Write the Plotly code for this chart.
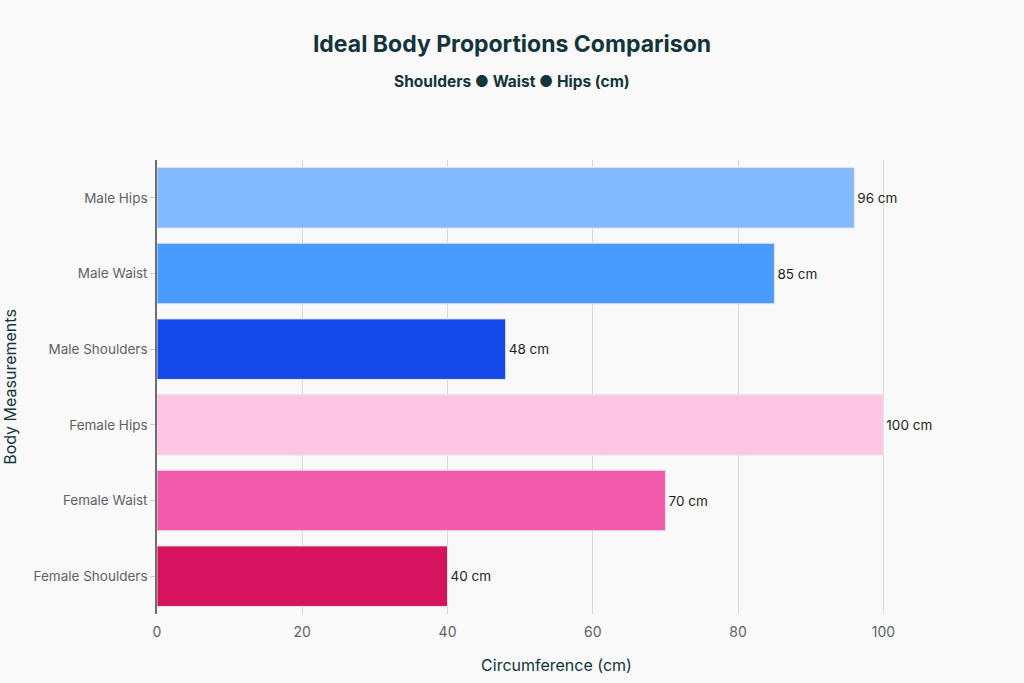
import plotly.graph_objects as go

categories = ["Female Shoulders", "Female Waist", "Female Hips",
              "Male Shoulders", "Male Waist", "Male Hips"]
values = [40, 70, 100, 48, 85, 96]
labels = ["40 cm", "70 cm", "100 cm", "48 cm", "85 cm", "96 cm"]
colors = ["#D5145D", "#F35AAB", "#FEC6E4", "#1448E8", "#4A9BFF", "#82B9FF"]

title_text = "Ideal Body Proportions Comparison"
subtitle_text = "Shoulders ● Waist ● Hips (cm)"

L, R, T, B = 157, 68, 160, 69
plot_w = 1024 - L - R

fig = go.Figure(go.Bar(
    x=values, y=categories, orientation="h",
    marker=dict(color=colors, line=dict(color="#E6E6E6", width=1)),
    text=labels, textposition="outside", cliponaxis=False,
    textfont=dict(size=13.5, color="#1F1F1F", family="Inter"),
    showlegend=False,
))

fig.update_layout(
    width=1024, height=683,
    paper_bgcolor="#F9F9F9", plot_bgcolor="#F9F9F9",
    font=dict(family="Inter", color="#5F6368"),
    title=dict(
        text="<b>" + title_text + "</b>",
        x=0.5, xanchor="center", y=1 - 44 / 683, yanchor="middle",
        font=dict(size=23, color="#13343B", family="Inter"),
    ),
    annotations=[dict(
        text="<b>" + subtitle_text + "</b>",
        xref="paper", yref="paper", x=(512 - L) / plot_w,
        y=1.172, xanchor="center", yanchor="middle", showarrow=False,
        font=dict(size=15.5, color="#13343B", family="Inter"),
    )],
    margin=dict(l=L, r=R, t=T, b=B),
    bargap=0.2,
    xaxis=dict(
        title=dict(text="Circumference (cm)", font=dict(size=16, color="#13343B"), standoff=20),
        range=[0, 110], dtick=20, showgrid=True, gridcolor="#DADADA",
        zeroline=False, showline=False, ticklabelstandoff=8, automargin=False,
        tickfont=dict(size=14, color="#5F6368"),
    ),
    yaxis=dict(
        title=dict(text="Body Measurements", font=dict(size=16, color="#13343B")),
        showline=True, linecolor="#6E6E6E", linewidth=1.5, automargin=False,
        ticks="outside", ticklen=5, tickcolor="#D0D0D0",
        tickfont=dict(size=13.5, color="#5F6368"),
    ),
)

fig.write_html("out.html", config={"displayModeBar": False},
               post_script="document.body.style.margin='0';")
